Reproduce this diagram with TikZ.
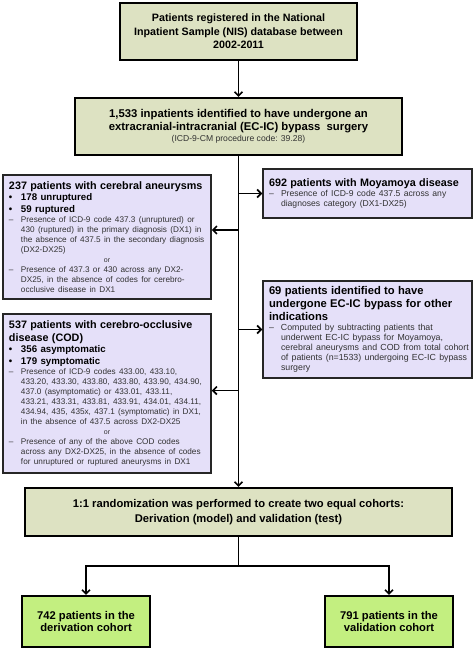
\documentclass[tikz,border=0pt]{standalone}
\usepackage{fontspec}
\setmainfont{Liberation Sans}
\usetikzlibrary{arrows.meta}

\definecolor{olivefill}{RGB}{221,226,194}
\definecolor{lilacfill}{RGB}{229,224,249}
\definecolor{limefill}{RGB}{195,239,128}
\definecolor{notegray}{RGB}{50,50,50}

% text pieces of the criteria boxes (one \mbox per printed line)
\newcommand{\boxhead}[1]{{\fontsize{10.8}{12.3}\selectfont\bfseries\noindent #1\par}}
\newcommand{\bulitem}[1]{{\fontsize{9.7}{11.5}\selectfont\bfseries\hangindent=12pt\hangafter=1\noindent\makebox[12pt][l]{\textbullet}\mbox{#1}\par}}
\newcommand{\dashitem}[2][8.2]{{\fontsize{#1}{10}\selectfont\color{notegray}\hangindent=12pt\hangafter=1\noindent\makebox[12pt][l]{--}#2\par}}
\newcommand{\ortext}{{\fontsize{7}{10}\selectfont\color{notegray}\centering or\par}}

\begin{document}
\begin{tikzpicture}[x=1pt,y=-1pt,
    mainbox/.style={draw=black, line width=2.2pt, fill=olivefill, align=center, inner sep=3pt},
    endbox/.style={mainbox, fill=limefill},
    subbox/.style={draw=black!85, line width=1.5pt, fill=lilacfill, align=left, inner xsep=6pt, inner ysep=2pt},
    arr/.style={line width=1.6pt, -{Straight Barb[length=4pt,width=8pt]}},
    link/.style={line width=1.6pt}]
    \useasboundingbox (0,0) rectangle (474,650);

    % database and procedure
    \node[mainbox, minimum width=237pt, minimum height=57pt, font=\fontsize{10.7}{13.5}\selectfont\bfseries] (nis) at (238.5,31.5)
        {Patients registered in the National\\Inpatient Sample (NIS) database between\\2002-2011};
    \node[mainbox, minimum width=327pt, minimum height=57pt, font=\fontsize{11.3}{12.5}\selectfont\bfseries] (ecic) at (238.5,126.5)
        {1,533 inpatients identified to have undergone an\\extracranial-intracranial (EC-IC) bypass\ \ surgery\\[-1pt]
         {\fontsize{8.6}{10}\selectfont\mdseries\color{notegray}(ICD-9-CM procedure code: 39.28)}};

    % indications
    \node[subbox, text width=196pt, minimum width=208pt, minimum height=124pt] (aneur) at (107,237) {%
        \boxhead{237 patients with cerebral aneurysms}
        \bulitem{178 unruptured}
        \bulitem{59 ruptured}
        \dashitem{\mbox{Presence of ICD-9 code 437.3 (unruptured) or}\newline
            \mbox{430 (ruptured) in the primary diagnosis (DX1) in}\newline
            \mbox{the absence of 437.5 in the secondary diagnosis}\newline
            \mbox{(DX2-DX25)}}
        \ortext
        \dashitem{\mbox{Presence of 437.3 or 430 across any DX2-}\newline
            \mbox{DX25, in the absence of codes for cerebro-}\newline
            \mbox{occlusive disease in DX1}}};
    \node[subbox, text width=197pt, minimum width=209pt, minimum height=49pt] (moya) at (367.5,193.5) {%
        \boxhead{692 patients with Moyamoya disease}
        \dashitem[8.6]{\mbox{Presence of ICD-9 code 437.5 across any}\newline
            \mbox{diagnoses category (DX1-DX25)}}};
    \node[subbox, text width=197pt, minimum width=209pt, minimum height=97pt] (other) at (367.5,329.5) {%
        {\fontsize{11.2}{12.7}\selectfont\bfseries\noindent 69 patients identified to have\newline undergone EC-IC bypass for other\newline indications\par}
        \dashitem[8.8]{\mbox{Computed by subtracting patients that}\newline
            \mbox{underwent EC-IC bypass for Moyamoya,}\newline
            \mbox{cerebral aneurysms and COD from total cohort}\newline
            \mbox{of patients (n=1533) undergoing EC-IC bypass}\newline
            \mbox{surgery}}};
    \node[subbox, text width=196pt, minimum width=208pt, minimum height=159pt] (cod) at (107,393.5) {%
        \boxhead{537 patients with cerebro-occlusive\newline disease (COD)}
        \bulitem{356 asymptomatic}
        \bulitem{179 symptomatic}
        \dashitem{\mbox{Presence of ICD-9 codes 433.00, 433.10,}\newline
            \mbox{433.20, 433.30, 433.80, 433.80, 433.90, 434.90,}\newline
            \mbox{437.0 (asymptomatic) or 433.01, 433.11,}\newline
            \mbox{433.21, 433.31, 433.81, 433.91, 434.01, 434.11,}\newline
            \mbox{434.94, 435, 435x, 437.1 (symptomatic) in DX1,}\newline
            \mbox{in the absence of 437.5 across DX2-DX25}}
        \ortext
        \dashitem{\mbox{Presence of any of the above COD codes}\newline
            \mbox{across any DX2-DX25, in the absence of codes}\newline
            \mbox{for unruptured or ruptured aneurysms in DX1}}};

    % randomization and cohorts
    \node[mainbox, minimum width=427pt, minimum height=48pt, font=\fontsize{11.2}{15}\selectfont\bfseries] (rand) at (238.5,512)
        {1:1 randomization was performed to create two equal cohorts:\\Derivation (model) and validation (test)};
    \node[endbox, minimum width=128pt, minimum height=51pt, font=\fontsize{11.2}{12.5}\selectfont\bfseries] (deriv) at (86,621.5)
        {742 patients in the\\derivation cohort};
    \node[endbox, minimum width=128pt, minimum height=51pt, font=\fontsize{11.2}{12.5}\selectfont\bfseries] (valid) at (389,621.5)
        {791 patients in the\\validation cohort};

    % connectors
    \coordinate (aneurin) at ([yshift=7pt]aneur.east);
    \coordinate (codin) at ([yshift=3pt]cod.east);
    \coordinate (split) at ([yshift=-29pt]rand.south);
    \draw[arr] (nis.south) -- (ecic.north);
    \draw[arr] (ecic.south) -- (rand.north);
    \draw[arr] (ecic.south |- moya.west) -- (moya.west);
    \draw[arr] (ecic.south |- aneurin) -- (aneurin);
    \draw[arr] (ecic.south |- other.west) -- (other.west);
    \draw[arr] (ecic.south |- codin) -- (codin);
    \draw[link] (rand.south) -- (split);
    \draw[arr] (split) -| (deriv.north);
    \draw[arr] (split) -| (valid.north);
\end{tikzpicture}
\end{document}
